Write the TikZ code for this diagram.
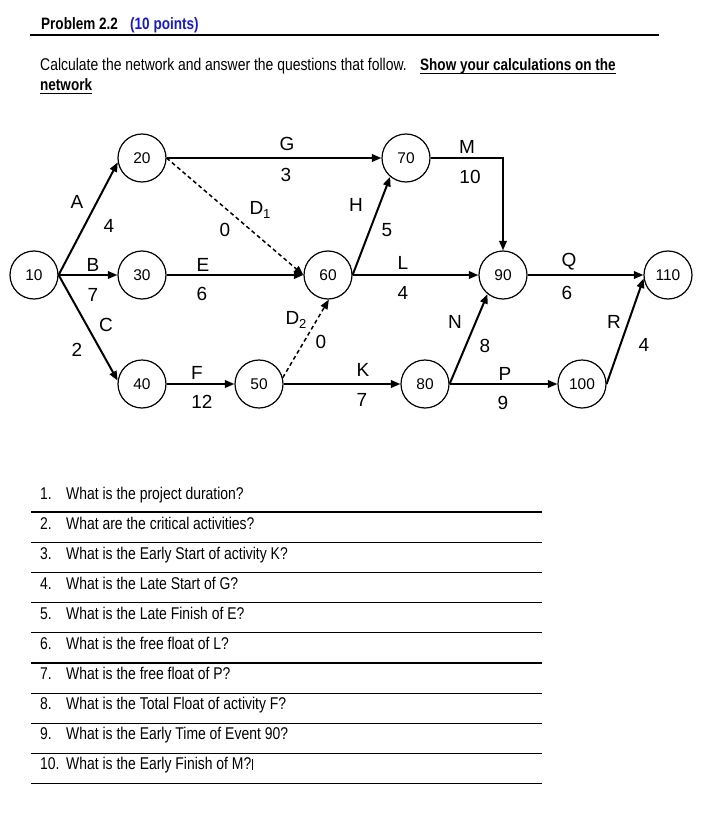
\documentclass[tikz,border=0pt]{standalone}
\usepackage{fontspec}
\setmainfont{Liberation Sans}
\newfontfamily\nrw[FakeStretch=0.82]{Liberation Sans}
\usetikzlibrary{arrows.meta,calc}
\definecolor{ptsblue}{RGB}{25,25,205}
\begin{document}
\begin{tikzpicture}[x=1pt,y=-1pt,
  ev/.style={circle,draw,line width=1.2pt,minimum size=48pt,inner sep=0pt,font=\fontsize{15.5}{15.5}\selectfont},
  act/.style={line width=2pt,-{Triangle[length=9.5pt,width=7.5pt]}},
  dum/.style={line width=1.5pt,dash pattern=on 4pt off 3pt,-{Triangle[length=9.5pt,width=7.5pt]}},
  lab/.style={inner sep=0pt,font=\fontsize{19}{19}\selectfont},
  txt/.style={inner sep=0pt,anchor=base west,font=\nrw\fontsize{17}{19}\selectfont},
  btxt/.style={txt,font=\nrw\bfseries\fontsize{16.5}{19}\selectfont},
  rulel/.style={line width=1.2pt}]
\useasboundingbox (0,0) rectangle (719,824);
\fill[white] (0,0) rectangle (719,824);

% header
\node[btxt] (ttl) at (41,30) {Problem 2.2};
\node[btxt,text=ptsblue] (pts) at (130,30) {(10 points)};
\coordinate (r0) at (30,35);
\coordinate (r1) at (659,35);
\draw[rulel] (r0) -- (r1);
\node[txt] (calc) at (40,71) {Calculate the network and answer the questions that follow.};
\node[btxt] (show) at (420,71) {Show your calculations on the};
\node[btxt] (netw) at (40,91) {network};
\draw[line width=1.1pt] ($(show.base west)+(0,2.5)$) -- ($(show.base east)+(0,2.5)$);
\draw[line width=1.1pt] ($(netw.base west)+(0,2.5)$) -- ($(netw.base east)+(0,2.5)$);

% events
\node[ev] (n10) at (34,275) {10};
\node[ev] (n20) at (142,158) {20};
\node[ev] (n30) at (142,275) {30};
\node[ev] (n40) at (142,384) {40};
\node[ev] (n50) at (259,384) {50};
\node[ev] (n60) at (328,275) {60};
\node[ev] (n70) at (406,158) {70};
\node[ev] (n80) at (425,384) {80};
\node[ev] (n90) at (503,275) {90};
\node[ev] (n100) at (582,384) {100};
\node[ev] (n110) at (668,275) {110};

% activities
\draw[act] (n10.east) -- (n20.190);
\draw[act] (n10.east) -- (n30.west);
\draw[act] (n10.east) -- (n40.172);
\draw[act] (n20.east) -- (n70.west);
\draw[dum] (n20.east) -- (n60.west);
\draw[act] (n30.east) -- (n60.west);
\draw[act] (n40.east) -- (n50.west);
\draw[dum] (n50.15) -- (n60.272);
\draw[act] (n50.east) -- (n80.west);
\draw[act] (n60.east) -- (n70.230);
\draw[act] (n60.east) -- (n90.west);
\draw[act] (n70.east) -| (n90.north);
\draw[act] (n80.east) -- (n90.231);
\draw[act] (n80.east) -- (n100.west);
\draw[act] (n90.east) -- (n110.west);
\draw[act] (n100.east) -- (n110.188);

% labels
\node[lab] (lA) at (77,202) {A};   \node[lab] (dA) at (109,226) {4};
\node[lab] (lB) at (93,265) {B};   \node[lab] (dB) at (93,295) {7};
\node[lab] (lC) at (106,325) {C};  \node[lab] (dC) at (77,350) {2};
\node[lab] (lG) at (287,144) {G};  \node[lab] (dG) at (286,175) {3};
\node[lab] (lD1) at (260,210) {D\raisebox{-0.35ex}{\fontsize{13}{13}\selectfont 1}};
\node[lab] (dD1) at (225,230) {0};
\node[lab] (lE) at (203,265) {E};  \node[lab] (dE) at (202,294) {6};
\node[lab] (lF) at (197,373) {F};  \node[lab] (dF) at (202,402) {12};
\node[lab] (lD2) at (296,320) {D\raisebox{-0.35ex}{\fontsize{13}{13}\selectfont 2}};
\node[lab] (dD2) at (321,342) {0};
\node[lab] (lH) at (356,205) {H};  \node[lab] (dH) at (387,230) {5};
\node[lab] (lL) at (403,263) {L};  \node[lab] (dL) at (403,293) {4};
\node[lab] (lK) at (363,370) {K};  \node[lab] (dK) at (362,400) {7};
\node[lab] (lM) at (467,147) {M};  \node[lab] (dM) at (470,177) {10};
\node[lab] (lN) at (455,322) {N};  \node[lab] (dN) at (485,346) {8};
\node[lab] (lP) at (505,374) {P};  \node[lab] (dP) at (503,403) {9};
\node[lab] (lQ) at (569,262) {Q};  \node[lab] (dQ) at (567,293) {6};
\node[lab] (lR) at (614,322) {R};  \node[lab] (dR) at (644,345) {4};

% questions
\foreach \i/\q in {1/What is the project duration?,
  2/What are the critical activities?,
  3/What is the Early Start of activity K?,
  4/What is the Late Start of G?,
  5/What is the Late Finish of E?,
  6/What is the free float of L?,
  7/What is the free float of P?,
  8/What is the Total Float of activity F?,
  9/What is the Early Time of Event 90?,
  10/{What is the Early Finish of M?\hspace{0.6pt}\rule{0.8pt}{11pt}}}{
  \node[txt] (qn\i) at (40,{499+30.1*(\i-1)}) {\i.};
  \node[txt] (qt\i) at (66,{499+30.1*(\i-1)}) {\q};
}
\foreach \k in {0,...,9}{
  \draw[rulel] (31,{512+30.2*\k}) -- (542,{512+30.2*\k});
}
\end{tikzpicture}
\end{document}
